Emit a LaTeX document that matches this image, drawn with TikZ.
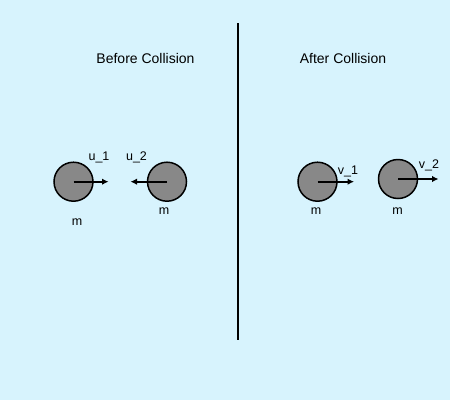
\documentclass[tikz,border=0pt]{standalone}
\usepackage{fontspec}
\setmainfont{Liberation Sans}
\usetikzlibrary{arrows.meta}
\definecolor{bgblue}{RGB}{215,243,253}
\definecolor{ballgray}{RGB}{136,136,136}
\begin{document}
\begin{tikzpicture}[x=1pt,y=-1pt,
  ball/.style={circle,draw=black,line width=1.5pt,fill=ballgray,minimum size=39pt,inner sep=0pt},
  vel/.style={line width=1.6pt,-{Latex[length=6.5pt,width=6.5pt]}},
  lbl/.style={font=\fontsize{12.5}{14}\selectfont,inner sep=0pt},
  title/.style={font=\fontsize{14}{16}\selectfont,inner sep=0pt}]
\fill[bgblue] (0,0) rectangle (450,400);
\useasboundingbox (0,0) rectangle (450,400);
\coordinate (lt) at (238,23);
\coordinate (lb) at (238,340);
\draw[line width=1.8pt] (lt) -- (lb);
\node[title] (tb) at (145.5,58) {Before Collision};
\node[title] (ta) at (343,58) {After Collision};
% before
\node[ball] (b1) at (73.5,181.7) {};
\node[ball] (b2) at (167,181.7) {};
\coordinate (a1) at (108.5,181.7);
\coordinate (a2) at (130.5,181.7);
\draw[vel] (b1.center) -- (a1);
\draw[vel] (b2.center) -- (a2);
\node[lbl] (u1) at (99,157) {u\_1};
\node[lbl] (u2) at (136.5,157) {u\_2};
\node[lbl] (m1) at (77,222) {m};
\node[lbl] (m2) at (164,211) {m};
% after
\node[ball] (c1) at (317.5,181.7) {};
\node[ball] (c2) at (398,179) {};
\coordinate (d1) at (354,181.7);
\coordinate (d2) at (438.5,179);
\draw[vel] (c1.center) -- (d1);
\draw[vel] (c2.center) -- (d2);
\node[lbl] (v1) at (348,171) {v\_1};
\node[lbl] (v2) at (429,165) {v\_2};
\node[lbl] (m3) at (316,211) {m};
\node[lbl] (m4) at (397.5,211) {m};
\end{tikzpicture}
\end{document}
